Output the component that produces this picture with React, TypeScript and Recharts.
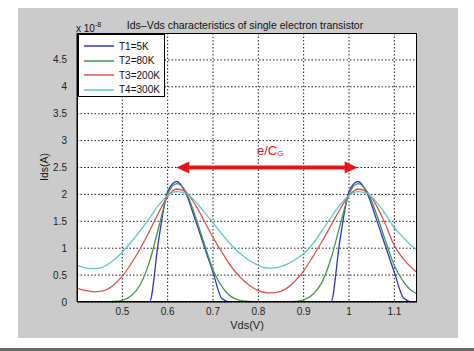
import React from "react";
import { LineChart, Line, XAxis, YAxis, CartesianGrid, ReferenceLine } from "recharts";

// drain-source voltage, V
const vds = [
  0.4, 0.42, 0.44, 0.46, 0.48, 0.5, 0.52, 0.54, 0.56, 0.58, 0.6, 0.62, 0.64,
  0.66, 0.68, 0.7, 0.72, 0.74, 0.76, 0.78, 0.8, 0.82, 0.84, 0.86, 0.88, 0.9,
  0.92, 0.94, 0.96, 0.98, 1.0, 1.02, 1.04, 1.06, 1.08, 1.1, 1.12, 1.14, 1.15,
];

// Ids in units of 1e-8 A
const t1 = [
  0, 0, 0, 0, 0, 0, 0, 0, 0, 1.15, 2.05, 2.24, 2.02, 1.55, 1.05, 0.55, 0.06,
  0, 0, 0, 0, 0, 0, 0, 0, 0, 0, 0, 0, 1.15, 2.05, 2.24, 2.02, 1.55, 1.05, 0.55,
  0.08, 0, 0,
];
const t2 = [
  0, 0, 0, 0, 0.01, 0.03, 0.12, 0.33, 0.75, 1.38, 2.0, 2.2, 2.05, 1.62, 1.1,
  0.6, 0.28, 0.1, 0.03, 0.01, 0, 0, 0, 0, 0.01, 0.04, 0.14, 0.36, 0.8, 1.42,
  2.0, 2.2, 2.05, 1.65, 1.15, 0.68, 0.38, 0.2, 0.16,
];
const t3 = [
  0.26, 0.21, 0.19, 0.21, 0.31, 0.48, 0.72, 1.0, 1.32, 1.66, 1.96, 2.1, 2.05,
  1.82, 1.52, 1.2, 0.92, 0.66, 0.46, 0.31, 0.21, 0.17, 0.18, 0.24, 0.38, 0.58,
  0.84, 1.12, 1.42, 1.72, 1.98, 2.1, 2.04, 1.8, 1.45, 1.05, 0.8, 0.62, 0.55,
];
const t4 = [
  0.68, 0.63, 0.62, 0.66, 0.77, 0.93, 1.12, 1.33, 1.56, 1.8, 1.98, 2.05, 2.02,
  1.88, 1.68, 1.47, 1.26, 1.06, 0.9, 0.77, 0.68, 0.63, 0.64, 0.69, 0.78, 0.9,
  1.08, 1.32, 1.57, 1.8, 1.98, 2.05, 2.02, 1.86, 1.64, 1.38, 1.2, 1.03, 0.97,
];

const xTicks = [0.5, 0.6, 0.7, 0.8, 0.9, 1, 1.1];
const yTicks = [0, 0.5, 1, 1.5, 2, 2.5, 3, 3.5, 4, 4.5];

const series = [
  { key: "t1", name: "T1=5K", color: "#3434c4", values: t1 },
  { key: "t2", name: "T2=80K", color: "#3f9a4c", values: t2 },
  { key: "t3", name: "T3=200K", color: "#e05252", values: t3 },
  { key: "t4", name: "T4=300K", color: "#5ec8c8", values: t4 },
];

// arrow marking the period e/C_G, between the two peaks
const arrowFrom = 0.619;
const arrowTo = 1.019;
const arrowAt = 2.5;

const data = vds.map((v, i) => {
  const row: Record<string, number> = { vds: v };
  series.forEach((s) => (row[s.key] = s.values[i]));
  return row;
});

const font = "'Liberation Sans', Arial, sans-serif";

function Arrow(props: any) {
  const { x1, y1, x2 } = props;
  const red = "#e4161c";
  const h = 13;
  const w = 6;
  const mid = (x1 + x2) / 2;
  return (
    <g>
      <line x1={x1 + h - 2} y1={y1} x2={x2 - h + 2} y2={y1} stroke={red} strokeWidth={4} />
      <polygon points={`${x1},${y1} ${x1 + h},${y1 - w} ${x1 + h},${y1 + w}`} fill={red} />
      <polygon points={`${x2},${y1} ${x2 - h},${y1 - w} ${x2 - h},${y1 + w}`} fill={red} />
      <text x={mid - 10} y={y1 - 13} fill={red} fontFamily={font} fontSize={13}>
        e/C
        <tspan fontSize={8} dy={1}>
          G
        </tspan>
      </text>
    </g>
  );
}

export default function App() {
  return (
    <div
      style={{
        position: "absolute",
        left: 0,
        top: 0,
        width: 474,
        height: 351,
        background: "#fff",
        overflow: "hidden",
        fontFamily: font,
      }}
    >
      <div style={{ position: "absolute", left: 18, top: 8, width: 440, height: 330, background: "#cbcbcb" }} />
      <div style={{ position: "absolute", left: 0, top: 348, width: 474, height: 3, background: "#6a6a6a" }} />

      <div style={{ position: "absolute", left: 0, top: 0 }}>
        <LineChart width={474} height={351} data={data} margin={{ top: 33, right: 57, bottom: 19, left: 47 }}>
          <CartesianGrid
            stroke="#222"
            strokeDasharray="1.5 2"
            fill="#fff"
            fillOpacity={1}
            verticalValues={xTicks}
            horizontalValues={yTicks}
          />
          <XAxis
            type="number"
            dataKey="vds"
            domain={[0.4, 1.15]}
            ticks={xTicks}
            allowDataOverflow
            height={30}
            tickLine={false}
            tickSize={4}
            tickMargin={2}
            axisLine={{ stroke: "#000" }}
            tick={{ fill: "#222", fontSize: 10, fontFamily: font }}
            label={{ value: "Vds(V)", position: "insideBottom", offset: 3, fill: "#222", fontSize: 11, fontFamily: font }}
          />
          <YAxis
            type="number"
            domain={[0, 5]}
            ticks={yTicks}
            allowDataOverflow
            width={30}
            tickLine={false}
            tickSize={6}
            tickMargin={4}
            axisLine={{ stroke: "#000" }}
            tick={{ fill: "#222", fontSize: 10, fontFamily: font }}
          />
          {series.map((s) => (
            <Line
              key={s.key}
              dataKey={s.key}
              name={s.name}
              type="monotone"
              stroke={s.color}
              strokeWidth={1.3}
              dot={false}
              isAnimationActive={false}
            />
          ))}
          <ReferenceLine
            segment={[
              { x: arrowFrom, y: arrowAt },
              { x: arrowTo, y: arrowAt },
            ]}
            ifOverflow="visible"
            shape={Arrow}
          />
        </LineChart>
      </div>

      {/* plot frame */}
      <div
        style={{
          position: "absolute",
          left: 77,
          top: 33,
          width: 340,
          height: 269,
          border: "1px solid #000",
          boxSizing: "border-box",
          pointerEvents: "none",
        }}
      />

      <div
        style={{
          position: "absolute",
          left: 0,
          width: 474,
          top: 19,
          textAlign: "center",
          fontSize: 10.5,
          color: "#111",
          paddingLeft: 16,
          boxSizing: "border-box",
        }}
      >
        Ids–Vds characteristics of single electron transistor
      </div>
      <div style={{ position: "absolute", left: 76, top: 22, fontSize: 10, color: "#111" }}>
        x 10<sup style={{ fontSize: 7, position: "relative", top: -1 }}>-8</sup>
      </div>
      <div
        style={{
          position: "absolute",
          left: 44,
          top: 167,
          fontSize: 10.5,
          color: "#111",
          transform: "translate(-50%, -50%) rotate(-90deg)",
          whiteSpace: "nowrap",
        }}
      >
        Ids(A)
      </div>

      {/* legend */}
      <div
        style={{
          position: "absolute",
          left: 78,
          top: 34,
          width: 87,
          height: 63,
          background: "#fff",
          border: "1px solid #000",
          boxSizing: "border-box",
          paddingTop: 4,
        }}
      >
        {series.map((s) => (
          <div key={s.key} style={{ display: "flex", alignItems: "center", height: 14.5, fontSize: 10, color: "#111" }}>
            <span style={{ display: "inline-block", width: 30, height: 2, background: s.color, marginLeft: 5, marginRight: 5, opacity: 0.75 }} />
            {s.name}
          </div>
        ))}
      </div>
    </div>
  );
}
